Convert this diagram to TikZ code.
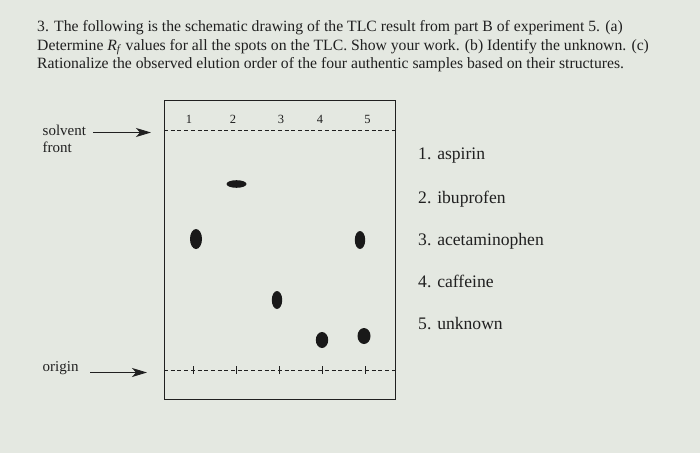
\documentclass[tikz,border=0pt]{standalone}
\usepackage{fontspec}
\setmainfont{Liberation Serif}
\usetikzlibrary{arrows.meta}
\definecolor{bg}{HTML}{E4E8E1}
\definecolor{ink}{HTML}{202020}
\begin{document}
\begin{tikzpicture}[x=1pt,y=-1pt,
  txt/.style={inner sep=0pt,anchor=base west,text=ink},
  ttl/.style={txt,font=\fontsize{15.7}{18}\selectfont},
  lab/.style={txt,font=\fontsize{15}{17}\selectfont},
  leg/.style={txt,font=\fontsize{17.6}{19}\selectfont},
  lane/.style={inner sep=0pt,anchor=base,text=ink,font=\fontsize{12.5}{14}\selectfont},
  spot/.style={fill=black!90,draw=none},
  dline/.style={draw=ink,dashed,dash pattern=on 4pt off 2.7pt,line width=0.8pt},
  arr/.style={draw=ink,line width=0.9pt,-{Stealth[length=15pt,width=9pt,inset=4pt]}}]
\fill[bg] (0,0) rectangle (700,453);
\useasboundingbox (0,0) rectangle (700,453);
% title
\node[ttl] (t1) at (37,31) {3. The following is the schematic drawing of the TLC result from part B of experiment 5. (a)};
\node[ttl] (t2) at (37,50) {Determine \textit{R}\textsubscript{\textit{f}} values for all the spots on the TLC. Show your work. (b) Identify the unknown. (c)};
\node[ttl] (t3) at (37,68.5) {Rationalize the observed elution order of the four authentic samples based on their structures.};
% plate
\draw[ink,line width=0.9pt] (164,100) rectangle (395,399);
\coordinate (sfL) at (164,130.7);
\coordinate (sfR) at (395,130.7);
\draw[dline] (sfL) -- (sfR);
\coordinate (orL) at (164,370);
\coordinate (orR) at (395,370);
\draw[dline] (orL) -- (orR);
% lane numbers
\node[lane] (n1) at (189,123.3) {1};
\node[lane] (n2) at (233,123.3) {2};
\node[lane] (n3) at (281,123.3) {3};
\node[lane] (n4) at (320,123.3) {4};
\node[lane] (n5) at (367.5,123.3) {5};
% ticks
\foreach \x in {193,236,279,322,365}{
  \draw[ink,line width=0.8pt] (\x,366) -- (\x,374);
}
% spots
\fill[spot] (196,239) ellipse [x radius=6, y radius=10];
\fill[spot] (236.5,184) ellipse [x radius=10, y radius=3.8];
\fill[spot] (277,300) ellipse [x radius=5.2, y radius=9];
\fill[spot] (322,340) ellipse [x radius=6.2, y radius=8];
\fill[spot] (360,240) ellipse [x radius=5.2, y radius=9];
\fill[spot] (364,336) ellipse [x radius=6.5, y radius=8];
% labels
\node[lab] (sv) at (42.5,135) {solvent};
\node[lab] (fr) at (42.5,152) {front};
\node[lab] (og) at (42.5,371) {origin};
\coordinate (sa) at (93,132.5);
\coordinate (sb) at (151,132.5);
\draw[arr] (sa) -- (sb);
\coordinate (oa) at (90,372.5);
\coordinate (ob) at (147,372.5);
\draw[arr] (oa) -- (ob);
% legend
\node[leg] (l1) at (418,159.5) {1. aspirin};
\node[leg] (l2) at (418,203) {2. ibuprofen};
\node[leg] (l3) at (418,245) {3. acetaminophen};
\node[leg] (l4) at (418,287) {4. caffeine};
\node[leg] (l5) at (418,329.5) {5. unknown};
\end{tikzpicture}
\end{document}
